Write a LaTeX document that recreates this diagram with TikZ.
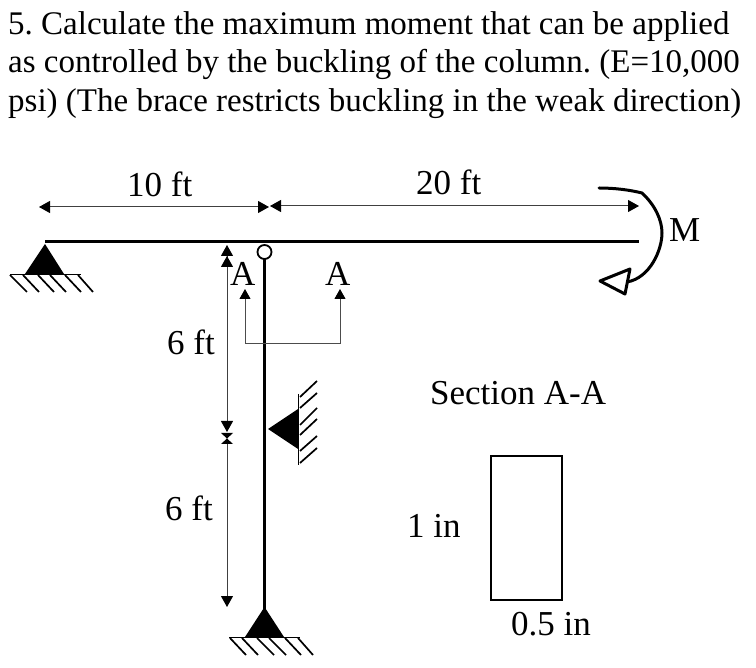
\documentclass[tikz,border=0pt]{standalone}
\usepackage{fontspec}
\setmainfont{Liberation Serif}
\usetikzlibrary{arrows.meta}
\tikzset{
    bodytext/.style={inner sep=0pt, anchor=base west, font=\fontsize{33}{38}\selectfont},
    label/.style={inner sep=0pt, anchor=base west, font=\fontsize{35}{38}\selectfont},
    memberline/.style={black, line width=3pt},
    hatchline/.style={black, line width=1.7pt},
    dimline/.style={black!75, line width=1pt, >={Triangle[length=11pt,width=12pt,color=black]}},
    cutline/.style={black!70, line width=1pt, >={Triangle[length=10pt,width=11pt,color=black]}},
}
\frenchspacing
\begin{document}
\begin{tikzpicture}[x=1pt,y=-1pt]
    \useasboundingbox (0,0) rectangle (756,668);
    % problem text
    \node[bodytext] (line1) at (8,35) {5. Calculate the maximum moment that can be applied};
    \node[bodytext] (line2) at (8,73) {as controlled by the buckling of the column. (E=10,000};
    \node[bodytext] (line3) at (8,112) {psi) (The brace restricts buckling in the weak direction)};
    % points
    \coordinate (dimL) at (39,207);
    \coordinate (dimM) at (269,207);
    \coordinate (dimMb) at (270,206);
    \coordinate (dimR) at (639,206);
    \coordinate (beamL) at (45,242);
    \coordinate (beamR) at (639,242);
    \coordinate (hinge) at (264.5,252);
    \coordinate (colT) at (264.5,259);
    \coordinate (colB) at (264.5,610);
    \coordinate (vdimT) at (227,245);
    \coordinate (vdimM) at (227,432);
    \coordinate (vdimN) at (227,444);
    \coordinate (vdimB) at (227,607);
    \coordinate (cutL) at (245,289);
    \coordinate (cutLb) at (245,344);
    \coordinate (cutRb) at (340,344);
    \coordinate (cutR) at (340,289);
    % dimensions
    \draw[dimline, <->] (dimL) -- (dimM);
    \draw[dimline, <->] (dimMb) -- (dimR);
    \draw[dimline, <<->] (vdimT) -- (vdimM);
    \draw[dimline, ->] (vdimN) -- (vdimB);
    \fill[black] (221,433) -- (233,433) -- (227,438.5) -- (233,444) -- (221,444) -- (227,438.5) -- cycle;
    \node[label] (tenft) at (127,197) {10 ft};
    \node[label] (twentyft) at (416,195) {20 ft};
    \node[label] (sixfta) at (167,355) {6 ft};
    \node[label] (sixftb) at (165,521) {6 ft};
    % beam and column
    \draw[memberline] (beamL) -- (beamR);
    \draw[black, line width=1.8pt, fill=white] (hinge) circle (7);
    \draw[memberline] (colT) -- (colB);
    % left pin
    \fill[black] (45,244) -- (64,274) -- (25,274) -- cycle;
    \draw[hatchline] (10,274.5) -- (81,274.5);
    \foreach \xa/\xb in {10/27,23/39,38/54,50/66,65/81,78/93}
        \draw[hatchline] (\xa,275) -- (\xb,292);
    % bottom pin
    \fill[black] (264.5,607) -- (284,637) -- (245,637) -- cycle;
    \draw[hatchline] (229,637.5) -- (300,637.5);
    \foreach \xa/\xb in {230/246,242/258,257/274,269/286,285/301,298/313}
        \draw[hatchline] (\xa,638) -- (\xb,655);
    % brace
    \fill[black] (268,429) -- (298,409) -- (298,449) -- cycle;
    \draw[hatchline] (298.5,394) -- (298.5,465);
    \foreach \ya/\yb in {397/381,408/393,425/408,435/419,451/436,463/448}
        \draw[hatchline] (300,\ya) -- (317,\yb);
    % section cut
    \draw[cutline, ->] (cutLb) -- (cutL);
    \draw[cutline] (cutLb) -- (cutRb);
    \draw[cutline, ->] (cutRb) -- (cutR);
    \node[label] (cutAa) at (230,286) {A};
    \node[label] (cutAb) at (325,286) {A};
    % moment
    \draw[memberline, line cap=round] (599,188) .. controls (615,188) and (630,190) .. (642,193)
        .. controls (655,205) and (662,220) .. (662,233)
        .. controls (662,250) and (650,278) .. (627,282);
    \draw[memberline, line join=round, fill=white] (600,281) -- (630,269) -- (625,294) -- cycle;
    \node[label] (moment) at (669,242) {M};
    % section
    \node[label] (sectitle) at (430,405) {Section A-A};
    \draw[black, line width=1.3pt] (491,456) rectangle (562,600);
    \node[label] (height) at (407,538) {1 in};
    \node[label] (width) at (511,635) {0.5 in};
\end{tikzpicture}
\end{document}
